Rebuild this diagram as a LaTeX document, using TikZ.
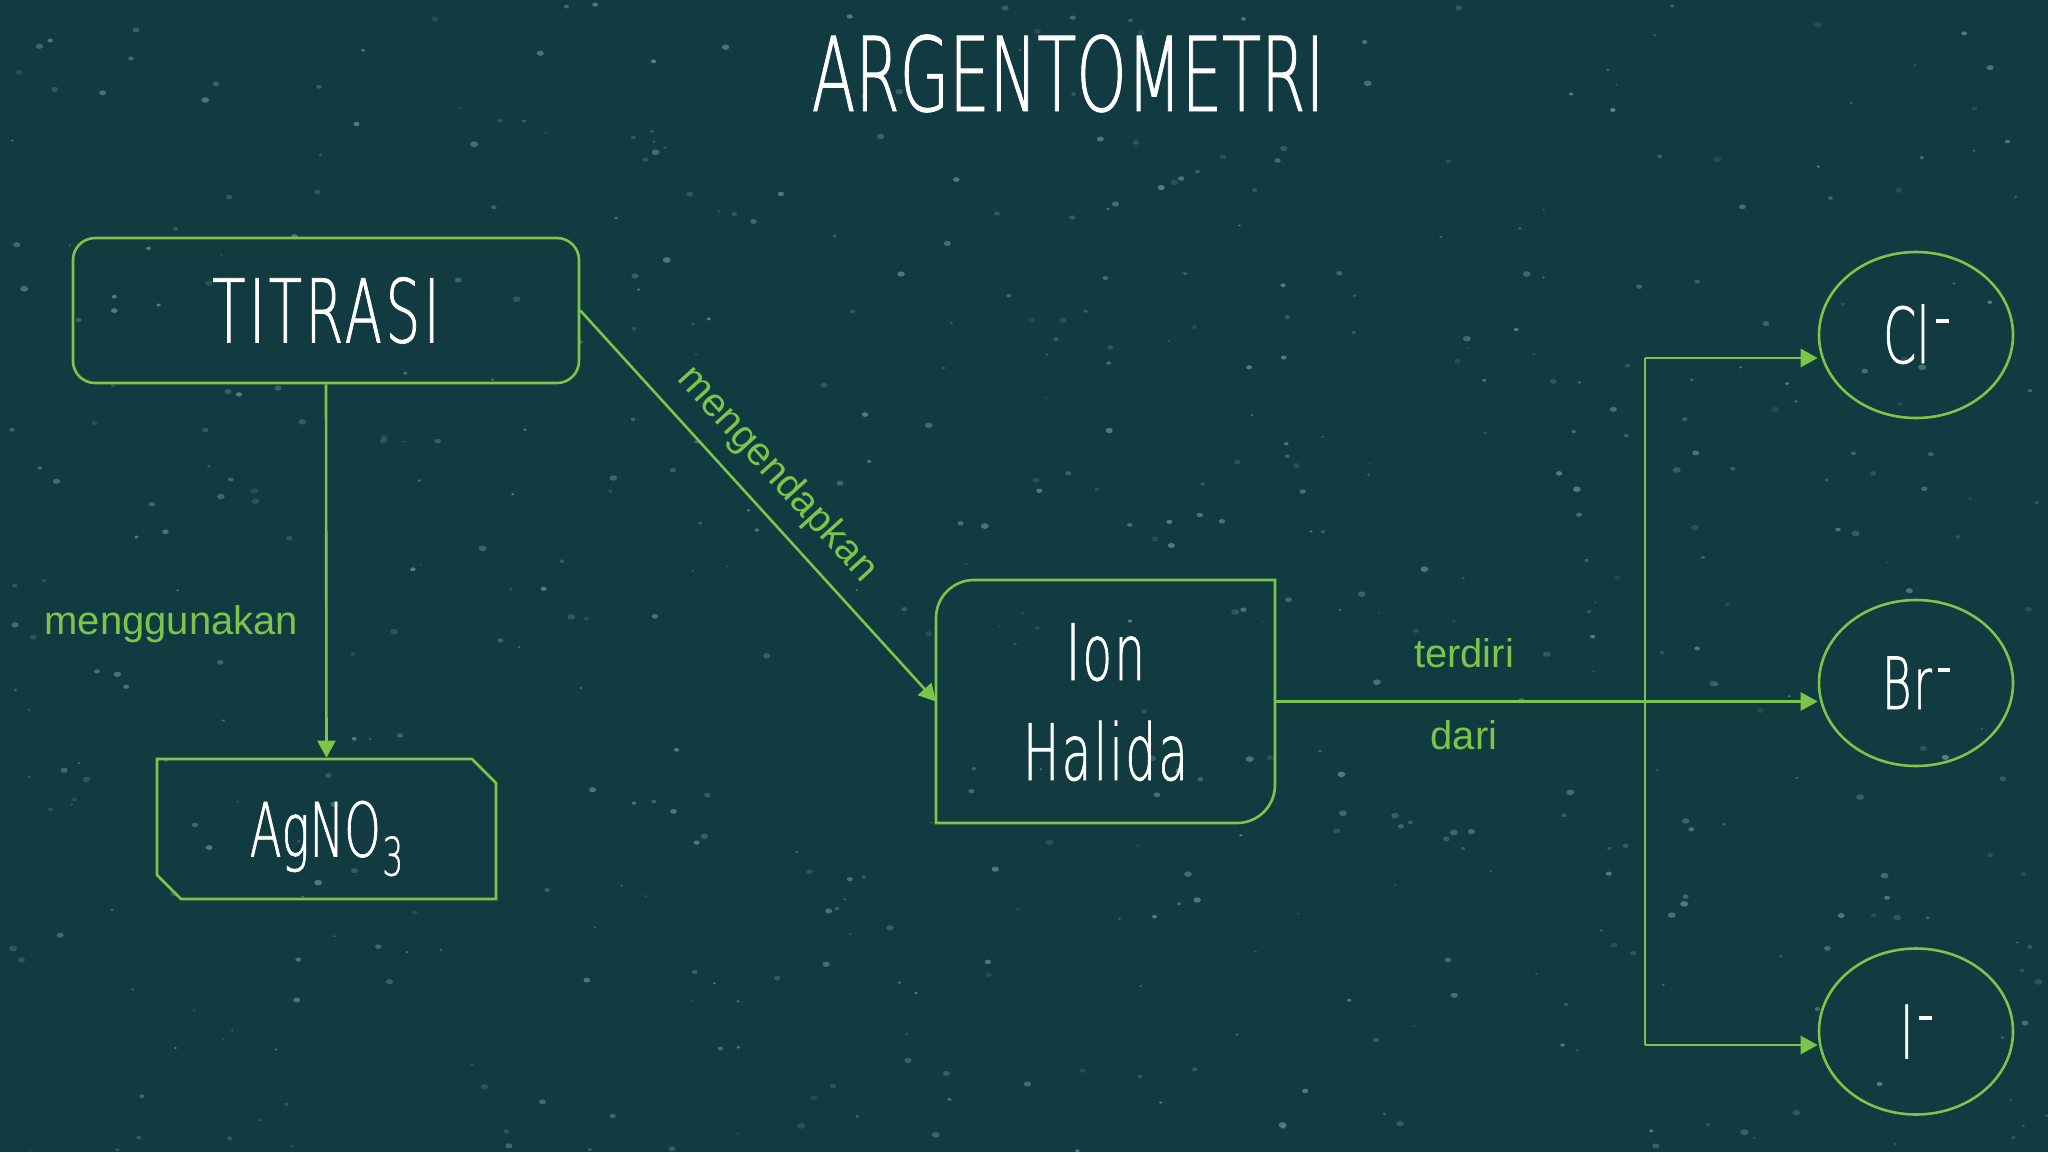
\documentclass[tikz,border=0pt]{standalone}
\usepackage{fontspec}
\usetikzlibrary{arrows.meta,shapes.geometric,shapes.misc,calc}
\newfontfamily\condfont[FakeStretch=0.62,FakeBold=0.8]{DejaVu Sans ExtraLight}
\newfontfamily\lblfont{Liberation Sans}
\definecolor{bgteal}{RGB}{17,58,65}
\definecolor{lime}{RGB}{124,197,73}
\definecolor{speck}{RGB}{160,200,205}
\newcommand\ionminus{\kern0.08em\rule[0.52em]{0.17em}{0.055em}}
\begin{document}
\begin{tikzpicture}[x=1pt,y=-1pt,
  boxline/.style={draw=lime, line width=2.6pt},
  conn/.style={draw=lime, line width=2.6pt},
  arr/.style={conn, -{Triangle[length=17pt,width=18pt]}},
  whitetext/.style={text=white, inner sep=0pt},
  lbl/.style={text=lime, font={\lblfont\fontsize{40}{48}\selectfont}, inner sep=0pt},
  ionnode/.style={boxline, ellipse, minimum width=194pt, minimum height=166pt, inner sep=0pt, text=white}
]
\fill[bgteal] (0,0) rectangle (2048,1152);
\useasboundingbox (0,0) rectangle (2048,1152);
\pgfmathsetseed{42}
\foreach \k in {1,...,550}{
  \pgfmathsetmacro\sx{rnd*2048}
  \pgfmathsetmacro\sy{rnd*1152}
  \pgfmathsetmacro\sr{0.9+rnd*2.0}
  \pgfmathsetmacro\so{0.12+0.35*rnd}
  \fill[speck, opacity=\so] (\sx,\sy) ellipse ({\sr*1.4} and \sr);
}
% title
\node[whitetext, font={\condfont\fontsize{103}{110}\selectfont}, text height=75pt, text depth=0pt] (title) at (1068,73.5) {ARGENTOMETRI};
% TITRASI
\node[boxline, rounded corners=22pt, minimum width=506pt, minimum height=145pt, inner sep=0pt, text=white,
      font={\condfont\fontsize{88}{96}\selectfont\addfontfeature{LetterSpace=4}}, text height=64pt, text depth=0pt] (titrasi) at (326,310.5) {TITRASI};
% AgNO3
\node[boxline, chamfered rectangle, chamfered rectangle xsep=12pt, chamfered rectangle ysep=12pt,
      chamfered rectangle corners={north east,south west}, minimum width=339pt, minimum height=140pt, inner sep=0pt,
      text=white, font={\condfont\fontsize{75}{82}\selectfont}, text height=55pt, text depth=0pt] (agno) at (326.5,829)
      {AgNO\kern0.02em\raisebox{-19pt}{\fontsize{53}{60}\selectfont 3}};
% Ion Halida
\node[inner sep=0pt, outer sep=0pt, minimum width=339pt, minimum height=243pt, text=white,
      font={\condfont\fontsize{78}{100}\selectfont\addfontfeature{LetterSpace=3}}, text height=157pt, text depth=0pt] (ion) at (1105.5,701.5)
      {\begin{tabular}[b]{@{}c@{}}Ion\\Halida\end{tabular}};
\draw[boxline] ($(ion.north west)+(0,38)$) .. controls ($(ion.north west)+(0,17)$) and ($(ion.north west)+(17,0)$) .. ($(ion.north west)+(38,0)$)
  -- (ion.north east) -- ($(ion.south east)+(0,-38)$)
  .. controls ($(ion.south east)+(0,-17)$) and ($(ion.south east)+(-17,0)$) .. ($(ion.south east)+(-38,0)$)
  -- (ion.south west) -- cycle;
% ions
\node[ionnode, font={\condfont\fontsize{77}{84}\selectfont}, text height=56pt, text depth=0pt] (cl) at (1916,335) {Cl\ionminus};
\node[ionnode, font={\condfont\fontsize{72}{80}\selectfont\addfontfeature{LetterSpace=3}}, text height=52pt, text depth=0pt] (br) at (1916,683) {Br\ionminus};
\node[ionnode, font={\condfont\fontsize{74}{80}\selectfont}, text height=54pt, text depth=0pt] (iod) at (1916,1031.5) {I\ionminus};
% connectors
\draw[arr] (titrasi.south) -- node[lbl, pos=0.671, anchor=base east, xshift=-27pt] {menggunakan} (agno.north);
\draw[arr] (titrasi.east) -- node[lbl, pos=0.48, sloped, anchor=south, inner ysep=15pt] {mengendapkan} (ion.west);
\coordinate (bt) at (1645,358);
\coordinate (bb) at (1645,1045);
\draw[arr] (ion.east) -- node[lbl, anchor=base, xshift=4pt, yshift=34pt] {terdiri} node[lbl, anchor=base, xshift=4pt, yshift=-48pt] {dari} (ion.east -| bt) -- (ion.east -| br.west);
\draw[conn] (bt) -- (bb);
\draw[arr] (bt) -- (bt -| cl.west);
\draw[arr] (bb) -- (bb -| iod.west);
\end{tikzpicture}
\end{document}
